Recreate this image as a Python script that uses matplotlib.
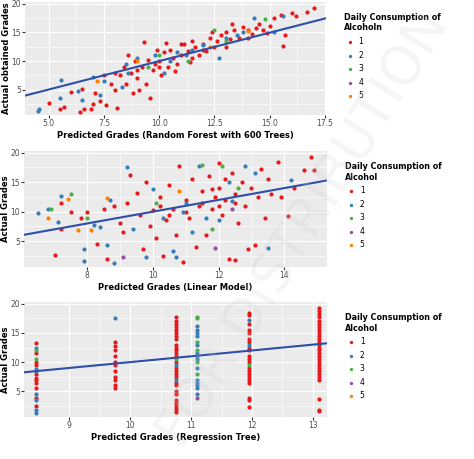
import matplotlib.pyplot as plt
import numpy as np

colours = {1: '#E41A1C', 2: '#377EB8', 3: '#4DAF4A', 4: '#984EA3', 5: '#FF7F00'}
levels = [1, 2, 3, 4, 5]

# panel 1: random forest (x, y, alcohol level)
rf_points = [
    (4.5, 1.3, 2), (4.55, 1.6, 2), (5.55, 6.7, 2), (5.5, 3.5, 2), (6.3, 4.8, 2), (7.0, 7.2, 2),
    (7.5, 6.5, 2), (8.5, 9.5, 2), (8.6, 8.0, 2), (9.0, 10.5, 2), (9.8, 11.0, 2), (10.2, 8.0, 2),
    (10.8, 11.5, 2), (11.5, 12.0, 2), (12.0, 12.8, 2), (12.7, 10.6, 2), (13.0, 14.0, 2),
    (13.5, 14.5, 2), (14.3, 17.5, 2), (15.2, 15.0, 2), (15.6, 17.8, 2), (8.3, 5.5, 2),
    (7.3, 4.0, 2), (6.5, 3.3, 2), (10.5, 10.0, 2), (11.2, 11.0, 2), (13.8, 15.0, 2),
    (10.0, 11.0, 3), (11.3, 10.0, 3), (12.5, 15.5, 3), (14.8, 17.3, 3), (9.5, 9.0, 3), (13.0, 13.5, 3),
    (7.2, 6.5, 5), (9.0, 10.0, 5), (12.3, 12.5, 5), (14.0, 15.2, 5),
    (5.0, 2.7, 1), (5.5, 1.7, 1), (5.7, 2.0, 1), (6.0, 4.6, 1), (6.5, 5.2, 1), (6.4, 1.2, 1),
    (6.6, 1.7, 1), (6.9, 1.7, 1), (7.0, 2.5, 1), (7.1, 4.5, 1), (7.3, 3.0, 1), (7.6, 2.3, 1),
    (7.8, 6.0, 1), (8.0, 5.0, 1), (8.1, 1.9, 1), (8.2, 7.5, 1), (8.4, 9.0, 1), (8.5, 6.0, 1),
    (8.7, 8.0, 1), (8.8, 4.5, 1), (8.9, 10.0, 1), (9.0, 7.0, 1), (9.2, 9.0, 1), (9.3, 13.3, 1),
    (9.4, 6.0, 1), (9.5, 10.2, 1), (9.6, 3.5, 1), (9.7, 8.5, 1), (9.8, 9.5, 1), (10.0, 10.0, 1),
    (10.1, 7.5, 1), (10.2, 11.5, 1), (10.4, 9.0, 1), (10.5, 12.0, 1), (10.6, 10.5, 1),
    (10.8, 9.5, 1), (11.0, 11.0, 1), (11.1, 13.0, 1), (11.3, 11.8, 1), (11.5, 10.5, 1),
    (11.6, 12.5, 1), (11.8, 11.0, 1), (12.0, 13.0, 1), (12.1, 11.7, 1), (12.3, 14.0, 1),
    (12.5, 12.5, 1), (12.6, 13.5, 1), (12.8, 14.5, 1), (13.0, 15.0, 1), (13.2, 13.8, 1),
    (13.4, 15.5, 1), (13.6, 14.0, 1), (13.8, 16.0, 1), (14.0, 15.5, 1), (14.2, 14.8, 1),
    (14.5, 16.5, 1), (14.7, 15.5, 1), (15.0, 16.2, 1), (15.2, 17.5, 1), (15.5, 18.0, 1),
    (15.7, 14.5, 1), (15.6, 12.7, 1), (16.0, 18.3, 1), (16.2, 17.9, 1), (16.7, 18.5, 1),
    (17.0, 19.3, 1), (11.0, 13.0, 1), (12.0, 12.0, 1), (9.0, 8.5, 1), (10.0, 9.0, 1),
    (11.5, 13.5, 1), (13.0, 12.5, 1), (14.0, 14.0, 1), (8.0, 8.0, 1), (7.5, 7.5, 1),
    (9.9, 12.0, 1), (10.7, 8.2, 1), (11.4, 9.8, 1), (12.4, 15.0, 1), (13.3, 16.5, 1),
    (14.4, 15.8, 1), (14.9, 14.9, 1), (8.6, 11.0, 1), (9.1, 5.0, 1), (10.3, 13.2, 1),
]

# panel 2: linear model
lm_points = [
    (6.5, 9.8, 2), (6.8, 10.4, 2), (7.1, 8.3, 2), (7.2, 12.6, 2), (7.9, 3.6, 2), (7.9, 1.7, 2),
    (8.2, 7.8, 2), (8.4, 7.4, 2), (8.6, 4.3, 2), (8.7, 12.0, 2), (8.8, 1.3, 2), (9.2, 17.6, 2),
    (9.4, 7.0, 2), (9.8, 2.3, 2), (10.0, 13.8, 2), (10.3, 9.0, 2), (10.6, 3.4, 2), (10.7, 2.3, 2),
    (11.0, 11.5, 2), (11.2, 6.5, 2), (11.4, 17.8, 2), (11.6, 9.0, 2), (12.0, 8.5, 2),
    (12.3, 15.0, 2), (12.8, 17.8, 2), (13.1, 16.5, 2), (13.5, 3.9, 2), (14.2, 15.3, 2),
    (12.4, 11.8, 2), (10.9, 10.0, 2),
    (6.9, 10.4, 3), (7.5, 13.0, 3), (8.0, 9.0, 3), (10.1, 11.5, 3), (11.5, 18.0, 3),
    (12.1, 17.8, 3), (11.8, 7.0, 3), (12.6, 14.0, 3),
    (9.1, 2.3, 4), (11.9, 3.9, 4), (12.4, 10.5, 4),
    (6.8, 9.0, 5), (7.4, 12.2, 5), (7.7, 6.8, 5), (8.1, 6.8, 5), (8.6, 12.3, 5), (10.8, 13.5, 5),
    (7.0, 2.7, 1), (7.2, 7.0, 1), (7.2, 11.4, 1), (7.5, 10.0, 1), (7.8, 9.0, 1), (8.0, 10.0, 1),
    (8.3, 4.5, 1), (8.5, 10.5, 1), (8.6, 1.9, 1), (8.8, 11.0, 1), (9.0, 8.0, 1), (9.1, 6.5, 1),
    (9.2, 11.5, 1), (9.3, 16.3, 1), (9.5, 13.2, 1), (9.6, 9.5, 1), (9.7, 3.7, 1), (9.8, 15.0, 1),
    (9.9, 7.5, 1), (10.0, 10.2, 1), (10.1, 5.5, 1), (10.2, 12.5, 1), (10.3, 2.5, 1),
    (10.4, 8.5, 1), (10.5, 14.5, 1), (10.6, 10.5, 1), (10.7, 6.0, 1), (10.8, 17.8, 1),
    (10.9, 1.4, 1), (11.0, 12.0, 1), (11.1, 9.0, 1), (11.2, 15.5, 1), (11.3, 4.0, 1),
    (11.4, 11.0, 1), (11.5, 13.5, 1), (11.6, 6.0, 1), (11.7, 16.0, 1), (11.8, 10.5, 1),
    (11.9, 12.5, 1), (12.0, 14.0, 1), (12.0, 18.2, 1), (12.1, 9.5, 1), (12.2, 12.0, 1),
    (12.3, 2.0, 1), (12.4, 16.5, 1), (12.5, 1.8, 1), (12.5, 13.0, 1), (12.6, 8.0, 1),
    (12.7, 15.0, 1), (12.8, 11.0, 1), (12.9, 3.6, 1), (13.0, 14.0, 1), (13.1, 4.3, 1),
    (13.2, 12.5, 1), (13.3, 17.2, 1), (13.4, 9.0, 1), (13.5, 15.5, 1), (13.6, 13.0, 1),
    (13.8, 18.5, 1), (13.9, 12.5, 1), (14.1, 9.3, 1), (14.3, 14.0, 1), (14.6, 17.0, 1),
    (14.8, 19.3, 1), (14.9, 17.0, 1), (11.0, 10.0, 1), (11.5, 11.5, 1), (12.0, 11.0, 1),
    (10.5, 9.5, 1), (12.5, 11.5, 1), (11.8, 13.8, 1), (10.2, 11.0, 1), (12.2, 15.5, 1),
]

# panel 3: regression tree (columns of points at each predicted value)
rt_x = [8.45, 9.75, 10.75, 11.1, 11.95, 13.1]
rt_y = [
    [13.2, 12.5, 11.5, 10.5, 9.5, 8.8, 8.0, 7.2, 6.5, 5.5, 4.5, 3.5, 2.5, 1.8, 1.3, 12.0, 10.0, 8.5, 7.0, 3.8],
    [17.6, 13.5, 12.8, 12.0, 11.0, 10.0, 9.5, 8.5, 7.5, 7.0, 6.0, 5.5],
    [17.8, 17.0, 16.0, 15.0, 14.5, 14.0, 13.0, 12.5, 12.0, 11.5, 11.0, 10.5, 10.0, 9.5, 9.0,
     8.5, 8.0, 7.5, 7.0, 6.5, 6.0, 5.0, 4.5, 3.5, 3.0, 2.5, 2.0, 1.4, 16.5, 15.5],
    [17.8, 17.5, 16.2, 15.5, 15.0, 14.5, 13.5, 13.0, 12.0, 11.5, 11.0, 10.5, 10.0, 9.0, 8.0,
     7.0, 6.5, 6.0, 5.5, 4.5, 3.9],
    [18.4, 18.0, 17.3, 16.5, 15.5, 15.0, 14.0, 13.5, 13.0, 12.0, 11.0, 10.5, 10.0, 9.5, 9.0,
     8.5, 8.0, 7.5, 7.0, 6.5, 3.8, 3.5, 2.3, 12.5],
    [19.3, 18.8, 18.3, 17.8, 17.0, 16.5, 16.0, 15.5, 15.0, 14.5, 14.0, 13.5, 13.0, 12.5, 12.0,
     11.5, 11.0, 10.5, 10.0, 9.5, 9.0, 8.5, 8.0, 7.5, 7.0, 3.6, 1.8, 1.6],
]
rt_c = [
    [1, 2, 1, 3, 1, 2, 1, 1, 1, 1, 2, 2, 1, 2, 2, 3, 1, 2, 1, 1],
    [2, 1, 1, 1, 1, 1, 1, 1, 1, 1, 1, 1],
    [1, 1, 1, 1, 1, 1, 1, 1, 1, 1, 1, 3, 1, 2, 1, 1, 1, 1, 2, 1, 1, 1, 1, 1, 1, 1, 1, 1, 1, 1],
    [3, 3, 2, 2, 2, 2, 3, 2, 3, 2, 2, 2, 3, 2, 3, 2, 2, 2, 2, 2, 4],
    [1, 1, 2, 1, 1, 1, 1, 1, 2, 1, 1, 1, 1, 3, 1, 1, 1, 1, 1, 1, 1, 1, 1, 1],
    [1, 1, 1, 1, 1, 1, 1, 1, 1, 1, 1, 1, 1, 1, 1, 1, 1, 1, 1, 1, 1, 1, 1, 1, 1, 1, 1, 1],
]
rt_points = [(x, y, c) for x, ys, cs in zip(rt_x, rt_y, rt_c) for y, c in zip(ys, cs)]

# fitted lines (intercept, slope)
fit_lines = [(0.1, 0.99), (0.0, 1.0), (0.0, 1.0)]
xlabels = ['Predicted Grades (Random Forest with 600 Trees)',
           'Predicted Grades (Linear Model)',
           'Predicted Grades (Regression Tree)']
ylabels = ['Actual obtained Grades', 'Actual Grades', 'Actual Grades']
legend_titles = ['Daily Consumption of\nAlcoholn', 'Daily Consumption of\nAlcohol',
                 'Daily Consumption of\nAlcohol']
xlims = [(3.92, 17.55), (6.07, 15.3), (8.26, 13.23)]
xticks = [[5.0, 7.5, 10.0, 12.5, 15.0, 17.5], [8, 10, 12, 14], [9, 10, 11, 12, 13]]
xticklabels = [['5.0', '7.5', '10.0', '12.5', '15.0', '17.5'], ['8', '10', '12', '14'],
               ['9', '10', '11', '12', '13']]

fig = plt.figure(figsize=(4.74, 4.59), dpi=100)
boxes = [(25, 2, 326, 115), (24, 151, 327, 267), (24, 302, 327, 417)]
panels = [rf_points, lm_points, rt_points]

for i, pts in enumerate(panels):
    l, t, r, b = boxes[i]
    ax = fig.add_axes([l / 474, 1 - b / 459, (r - l) / 474, (b - t) / 459])
    ax.set_facecolor('#EBEBEB')
    ax.set_axisbelow(True)
    for lv in levels:
        sel = [(x, y) for x, y, c in pts if c == lv]
        xs = [p[0] for p in sel]
        ys = [p[1] for p in sel]
        ax.scatter(xs, ys, s=9, color=colours[lv], label=str(lv), linewidths=0, zorder=2)
    a, m = fit_lines[i]
    ax.axline((0, a), slope=m, color='#2E4FA8', lw=1.5, zorder=3)
    ax.set_xlim(*xlims[i])
    ax.set_ylim(0.6, 20.3)
    ax.set_yticks([5, 10, 15, 20])
    ax.set_xticks(xticks[i])
    ax.set_xticklabels(xticklabels[i])
    ax.set_xticks([(u + v) / 2 for u, v in zip(xticks[i][:-1], xticks[i][1:])], minor=True)
    ax.set_yticks([2.5, 7.5, 12.5, 17.5], minor=True)
    ax.grid(which='major', color='white', lw=0.8)
    ax.grid(which='minor', color='white', lw=0.4)
    for s in ax.spines.values():
        s.set_visible(False)
    ax.tick_params(which='major', length=2, color='#333333', labelsize=5.5, labelcolor='#4D4D4D', pad=1)
    ax.tick_params(which='minor', length=0)
    ax.set_xlabel(xlabels[i], fontsize=6, fontweight='bold', labelpad=2)
    ax.set_ylabel(ylabels[i], fontsize=6, fontweight='bold', labelpad=0.5)
    leg = ax.legend(loc='upper left', bbox_to_anchor=(1.05, 0.93), frameon=False,
                    title=legend_titles[i], fontsize=5.5, markerscale=0.8,
                    handletextpad=0.4, handlelength=1.5, labelspacing=0.6, borderaxespad=0)
    leg.get_title().set_fontsize(5.8)
    leg.get_title().set_fontweight('bold')
    leg._legend_box.align = 'left'

fig.text(0.64, 0.5, 'FOR DISTRIBUTION', rotation=58, fontsize=38, color='#CCCCCC',
         alpha=0.2, ha='center', va='center')
fig.savefig('out.png', dpi=100)
